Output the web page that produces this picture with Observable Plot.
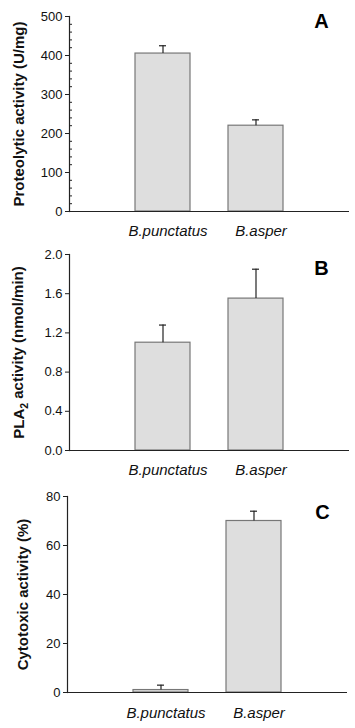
<!DOCTYPE html>
<html><head><meta charset="utf-8">
<script src="https://cdn.jsdelivr.net/npm/d3@7"></script>
<script src="https://cdn.jsdelivr.net/npm/@observablehq/plot@0.6"></script>
<style>
body{margin:0;background:#fff;font-family:"Liberation Sans",Arial,sans-serif;}
#charts svg{display:block;}
</style></head><body><div id="charts"></div>
<script>
const species = ["B.punctatus", "B.asper"];
const proteolytic = [405, 220];
const proteolyticErr = [425, 235];
const pla2 = [1.10, 1.55];
const pla2Err = [1.28, 1.85];
const cytotoxic = [1, 70];
const cytotoxicErr = [3, 74];
const ticksA = [0, 100, 200, 300, 400, 500];
const minorA = [20, 40, 60, 80, 120, 140, 160, 180, 220, 240, 260, 280, 320, 340, 360, 380, 420, 440, 460, 480];
const ticksB = [0, 0.4, 0.8, 1.2, 1.6, 2.0];
const ticksC = [0, 20, 40, 60, 80];
const labelA = "Proteolytic activity (U/mg)";
const labelB = "PLA2 activity (nmol/min)";
const labelC = "Cytotoxic activity (%)";

function panel(o) {
  const data = species.map((s, i) => ({sp: s, v: o.values[i], e: o.errs[i]}));
  const marks = [
    Plot.barY(data, {x: "sp", y: "v", fill: "#dedede", stroke: "#777", strokeWidth: 1.2}),
    Plot.ruleX(data, {x: "sp", y1: "v", y2: "e", stroke: "#222", strokeWidth: 1.2}),
    Plot.tickY(data, {x: "sp", y: "e", stroke: "#222", strokeWidth: 1.2, insetLeft: 24, insetRight: 24}),
    Plot.ruleY([0], {stroke: "#222", strokeWidth: 1.2}),
    Plot.frame({anchor: "left", stroke: "#222", strokeWidth: 1.2}),
    Plot.axisY({ticks: o.ticks, tickSize: 4, tickPadding: 3, fontSize: 13, tickFormat: o.fmt, label: null, stroke: "#222"}),
    Plot.axisX({tickSize: 0, tickPadding: o.xPad, fontSize: 15, fontStyle: "italic", dx: 5, label: null}),
    Plot.text([o.label], {frameAnchor: "left", textAnchor: "middle", lineAnchor: "middle", rotate: -90, dx: o.labelDx, fontSize: 15, fontWeight: "bold", fill: "#111"}),
    Plot.text([o.letter], {frameAnchor: "top-right", textAnchor: "middle", lineAnchor: "middle", dx: o.letterDx, dy: o.letterDy, fontSize: 20, fontWeight: "bold", fill: "#000"})
  ];
  if (o.minor) marks.push(Plot.axisY({ticks: o.minor, tickSize: 3, dx: 3, tickFormat: () => "", label: null, stroke: "#222"}));
  return Plot.plot({
    width: 355, height: o.height,
    marginLeft: o.ml, marginRight: o.mr, marginTop: o.mt, marginBottom: o.mb,
    style: {fontFamily: "'Liberation Sans', Arial, sans-serif", color: "#111", background: "#fff"},
    x: {type: "band", domain: species, paddingInner: 0.41, paddingOuter: 0.7, align: 0.5, axis: null},
    y: {domain: o.domain, axis: null},
    marks
  });
}

const host = document.getElementById("charts");
host.append(panel({values: proteolytic, errs: proteolyticErr, domain: [0, 500], ticks: ticksA, minor: minorA, fmt: d3.format("d"),
  label: labelA, letter: "A", height: 240, ml: 69, mr: 6, mt: 16, mb: 29, xPad: 14, labelDx: -50, letterDx: -28, letterDy: 5}));
host.append(panel({values: pla2, errs: pla2Err, domain: [0, 2], ticks: ticksB, fmt: d3.format(".1f"),
  label: labelB, letter: "B", height: 240, ml: 69, mr: 6, mt: 14, mb: 30, xPad: 14, labelDx: -50, letterDx: -28, letterDy: 14}));
host.append(panel({values: cytotoxic, errs: cytotoxicErr, domain: [0, 80], ticks: ticksC, fmt: d3.format("d"),
  label: labelC, letter: "C", height: 248, ml: 67, mr: 8, mt: 16, mb: 36, xPad: 15, labelDx: -44, letterDx: -25, letterDy: 16}));

// subscript in PLA2 label
host.querySelectorAll("text").forEach(t => {
  if (t.textContent === labelB) {
    const ns = "http://www.w3.org/2000/svg";
    while (t.firstChild) t.removeChild(t.firstChild);
    const a = document.createElementNS(ns, "tspan"); a.textContent = "PLA";
    const b = document.createElementNS(ns, "tspan"); b.textContent = "2"; b.setAttribute("dy", "0.35em"); b.setAttribute("font-size", "10.5");
    const c = document.createElementNS(ns, "tspan"); c.textContent = " activity (nmol/min)"; c.setAttribute("dy", "-0.35em");
    t.append(a, b, c);
  }
});
</script></body></html>
